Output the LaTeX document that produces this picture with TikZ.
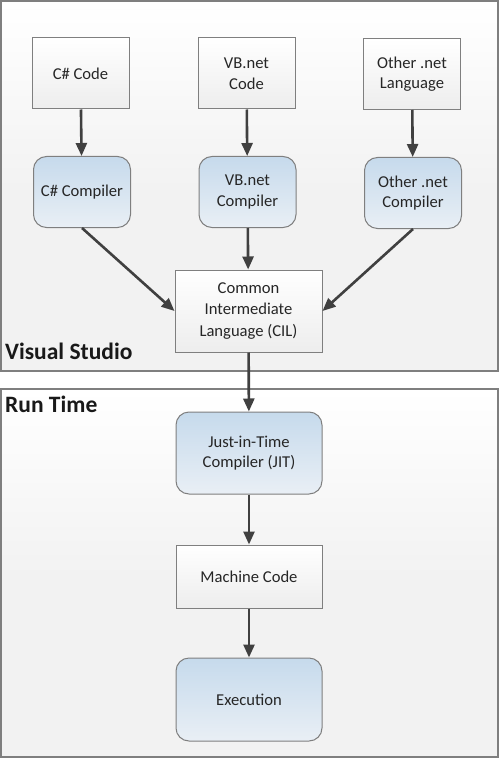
\documentclass[tikz,border=0pt]{standalone}
\usepackage{fontspec}
\setmainfont{Carlito}
\usetikzlibrary{arrows.meta}
\usetikzlibrary{positioning}
\definecolor{framegray}{HTML}{7F7F7F}
\definecolor{arrowgray}{HTML}{404040}
\definecolor{blueTop}{HTML}{C6DAEC}
\definecolor{blueBot}{HTML}{E9EFF5}
\tikzset{
    frame/.style={
        draw=framegray,
        line width=1.3pt,
        top color=white,
        bottom color=black!5,
        middle color=black!5
    },
    codebox/.style={
        draw=framegray,
        rectangle,
        line width=1pt,
        top color=white,
        bottom color=black!7,
        minimum width=97pt,
        minimum height=71pt,
        align=center,
        inner sep=2pt,
        font=\fontsize{16.6}{20.5}\selectfont,
        text=black!85
    },
    compbox/.style={
        codebox,
        rounded corners=13pt,
        top color=blueTop,
        bottom color=blueBot
    },
    flow/.style={
        draw=arrowgray,
        line width=2.6pt,
        -{Triangle[length=13pt, width=11pt]}
    },
    title/.style={
        anchor=base west,
        inner sep=0pt,
        font=\fontsize{23.5}{27}\selectfont\bfseries,
        text=black!90
    }
}

\begin{document}
\begin{tikzpicture}[x=1pt, y=-1pt]
  \useasboundingbox (0,0) rectangle (500,759);

  % Frames
  \path[frame] (1,1) rectangle (498,371);
  \path[frame] (1,389) rectangle (498,757);
  \node[title] (vs) at (5,359) {Visual Studio};
  \node[title] (rt) at (5,412) {Run Time};

  % Source code
  \node[codebox] (cscode) at (80.5,73.5) {C\# Code};
  \node[codebox] (vbcode) at (246.5,73.5) {VB.net\\Code};
  \node[codebox] (othcode) at (412,74) {Other .net\\Language};

  % Compilers
  \node[compbox] (cscomp) at (82,192) {C\# Compiler};
  \node[compbox] (vbcomp) at (247.5,192) {VB.net\\Compiler};
  \node[compbox] (othcomp) at (413,193) {Other .net\\Compiler};

  % Intermediate language and run time
  \node[codebox, minimum width=147pt, minimum height=82pt,
        font=\fontsize{16.6}{21.5}\selectfont] (cil) at (248.5,311)
       {Common\\Intermediate\\Language (CIL)};
  \node[compbox, minimum width=146pt, minimum height=82pt] (jit) at (249,453)
       {Just-in-Time\\Compiler (JIT)};
  \node[codebox, minimum width=146pt, minimum height=63pt] (mc) at (249,576.5)
       {Machine Code};
  \node[compbox, minimum width=146pt, minimum height=83pt] (exec) at (249,699.5)
       {Execution};

  % Arrows
  \draw[flow] (cscode) -- (cscomp);
  \draw[flow] (vbcode) -- (vbcomp);
  \draw[flow] (othcode) -- (othcomp);
  \draw[flow] (cscomp.south) -- (cil.west);
  \draw[flow] (vbcomp) -- (cil);
  \draw[flow] (othcomp.south) -- (cil.east);
  \draw[flow] (cil) -- (jit);
  \draw[flow] (jit) -- (mc);
  \draw[flow] (mc) -- (exec);
\end{tikzpicture}
\end{document}
